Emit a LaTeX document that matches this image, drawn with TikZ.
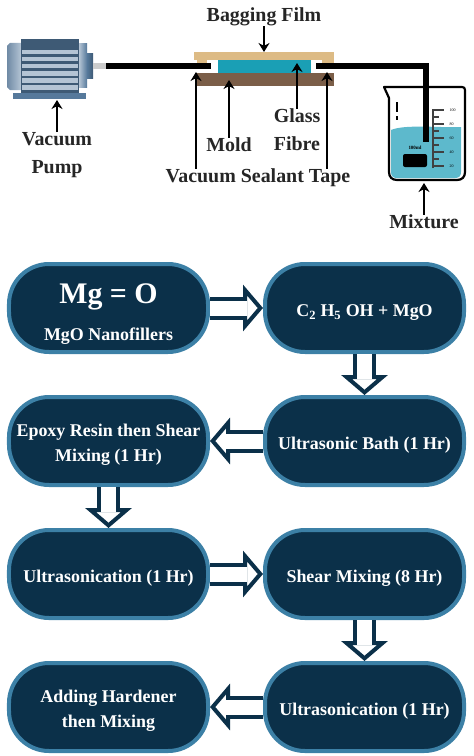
\documentclass[tikz,border=0pt]{standalone}
\usepackage{fontspec}
\setmainfont{Liberation Serif}
\usetikzlibrary{arrows.meta,positioning}
\definecolor{boxfill}{HTML}{0B3049}
\definecolor{boxline}{HTML}{3C80A6}
\definecolor{filmtan}{HTML}{DDBB85}
\definecolor{moldbrown}{HTML}{7B5E48}
\definecolor{fibreblue}{HTML}{1A9FB5}
\definecolor{waterblue}{HTML}{5DB9CC}
\definecolor{pumpdark}{HTML}{3E5A75}
\definecolor{pumpmid}{HTML}{6F8AA5}
\definecolor{pumplight}{HTML}{B4C4D4}
\definecolor{pumpbase}{HTML}{56799B}
\tikzset{
  flowbox/.style={draw=boxline,line width=4bp,fill=boxfill,rounded corners=40bp,text=white,
    font=\bfseries\fontsize{18}{25}\selectfont,align=center,minimum width=199bp,minimum height=88bp,inner sep=0pt,
    execute at begin node=\rule{0pt}{21bp}},
  flowarrow/.style={draw=boxfill,double=white,double distance=15bp,line width=4bp,
    -{Triangle[open,fill=white,length=20bp,width=46bp,line width=4bp]},
    postaction={draw=white,double=none,line width=15bp,-{},shorten >=16bp}},
  tag/.style={font=\bfseries\fontsize{20}{28}\selectfont,text=black!85,align=center,inner sep=0pt},
  pointer/.style={line width=2bp,-{Stealth[length=9bp,width=11bp]}}
}
\begin{document}
\begin{tikzpicture}[x=1bp,y=-1bp,node distance=41bp and 53bp]
  \useasboundingbox (0,0) rectangle (474,756);
  % pump
  \fill[pumpbase] (13,93) rectangle (86,99);
  \shade[left color=pumpmid,right color=pumplight] (7,46) -- (10,43) -- (21,43) -- (21,90) -- (10,90) -- (7,87) -- cycle;
  \fill[pumpdark] (21,39) rectangle (79,93);
  \foreach \y in {50,57,...,85}
    \fill[pumplight] (22,\y) rectangle (78,\y+4.5);
  \shade[left color=pumplight,right color=pumpbase] (79,44) rectangle (87,87);
  \shade[left color=pumpbase,right color=pumpdark] (87,54) rectangle (93,78);
  \fill[black!20] (93,63) rectangle (106,69);
  % bag
  \fill[filmtan] (194,52) rectangle (334,60);
  \fill[filmtan] (197,60) rectangle (207,64);
  \fill[filmtan] (322,60) rectangle (334,64);
  \fill[moldbrown] (197,73) rectangle (334,86);
  \fill[fibreblue] (218,60) rectangle (311,73);
  % beaker
  \fill[waterblue] (391,130) .. controls (405,124) and (440,128) .. (461,127) -- (461,172)
    .. controls (461,176) and (459,178) .. (455,178) -- (397,178) .. controls (393,178) and (391,176) .. (391,172) -- cycle;
  \draw[line width=2.2bp,line join=round] (384,87) -- (462,87) .. controls (464,87) and (465,88) .. (465,90) -- (465,172)
    .. controls (465,177) and (462,180) .. (457,180) -- (397,180) .. controls (392,180) and (389,177) .. (389,172) -- (389,98) -- cycle;
  \fill[black,rounded corners=2bp] (403,154) rectangle (427,167);
  \draw[line width=2bp] (397,102) -- (397,112);
  \draw[line width=2bp] (397,116) -- (397,120);
  \draw[line width=1.2bp,black!75] (433,168) -- (433,110) -- (444,110);
  \foreach \y/\v in {110/100,124/80,152/40,166/20,138/60}
    \node[font=\fontsize{4}{4}\selectfont,right=2bp] (v\v) at (444,\y) {\v};
  \foreach \y in {124,138,152,166}
    \draw[line width=1.2bp,black!75] (433,\y) -- (444,\y);
  \foreach \y in {117,131,145,159}
    \draw[line width=1.2bp,black!75] (433,\y) -- (439,\y);
  \node[font=\bfseries\fontsize{5}{5}\selectfont,inner sep=0pt] (vol) at (415,148) {100ml};
  % tubes
  \coordinate (pumpshaft) at (106,66);
  \coordinate (bagleft) at (211,66);
  \coordinate (bagright) at (316,66);
  \coordinate (tubebend) at (426,66);
  \coordinate (tubeend) at (426,142);
  \draw[line width=6bp] (pumpshaft) -- (bagleft);
  \draw[line width=6bp] (bagright) -- (tubebend) -- (tubeend);
  % labels
  \node[tag] (film) at (264,17) {Bagging Film};
  \node[tag] (pump) at (57,155) {Vacuum\\Pump};
  \node[tag] (mold) at (229,145) {Mold};
  \node[tag] (fibre) at (297,130) {Glass\\Fibre};
  \node[tag] (tape) at (258,178) {Vacuum Sealant Tape};
  \node[tag] (mix) at (424,222) {Mixture};
  \coordinate (filmpt) at (264,52);
  \coordinate (pumppt) at (57,100);
  \coordinate (moldpt) at (229,80);
  \coordinate (fibrept) at (297,63);
  \coordinate (tapeleft) at (196,72);
  \coordinate (taperight) at (327,72);
  \coordinate (mixpt) at (424,183);
  \draw[pointer] (film) -- (filmpt);
  \draw[pointer] (pump) -- (pumppt);
  \draw[pointer] (mold) -- (moldpt);
  \draw[pointer] (fibre) -- (fibrept);
  \draw[pointer] (tapeleft |- tape.north) -- (tapeleft);
  \draw[pointer] (taperight |- tape.north) -- (taperight);
  \draw[pointer] (mix) -- (mixpt);
  % flow chart
  \node[flowbox] (filler) at (108.5,308) {\rule{0pt}{32bp}{\fontsize{30}{32}\selectfont Mg = O}\\[12bp]MgO Nanofillers};
  \node[flowbox,right=of filler] (ethanol) {C\textsubscript{2} H\textsubscript{5} OH + MgO};
  \node[flowbox,below=of ethanol] (bath) {Ultrasonic Bath (1 Hr)};
  \node[flowbox,below=of filler] (resin) {\rule{0pt}{20bp}Epoxy Resin then Shear\\Mixing (1 Hr)};
  \node[flowbox,below=of resin] (sonic) {Ultrasonication (1 Hr)};
  \node[flowbox,below=of bath] (shear) {Shear Mixing (8 Hr)};
  \node[flowbox,below=of shear] (sonictwo) {Ultrasonication (1 Hr)};
  \node[flowbox,below=of sonic] (harden) {\rule{0pt}{20bp}Adding Hardener\\then Mixing};
  \draw[flowarrow] (filler) -- (ethanol);
  \draw[flowarrow] (ethanol) -- (bath);
  \draw[flowarrow] (bath) -- (resin);
  \draw[flowarrow] (resin) -- (sonic);
  \draw[flowarrow] (sonic) -- (shear);
  \draw[flowarrow] (shear) -- (sonictwo);
  \draw[flowarrow] (sonictwo) -- (harden);
\end{tikzpicture}
\end{document}
